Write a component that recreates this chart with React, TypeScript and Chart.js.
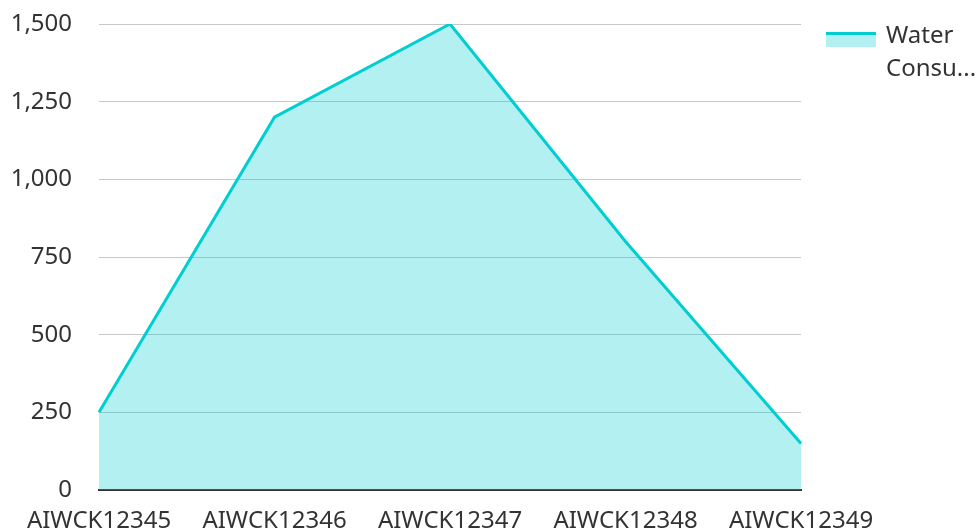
import React, { useEffect, useRef } from "react";
import { Chart, registerables } from "chart.js";

Chart.register(...registerables);

const categories = ["AIWCK12345", "AIWCK12346", "AIWCK12347", "AIWCK12348", "AIWCK12349"];
const waterValues = [250, 1200, 1500, 800, 150];
const seriesLabel = "Water Consu...";
const yTicks = [0, 250, 500, 750, 1000, 1250, 1500];

const LINE = "rgb(0,206,209)";
const FILL = "rgba(0,206,209,0.3)";
const TEXT = "#333333";
const FONT = "'Noto Sans', 'Open Sans', sans-serif";

export default function App() {
  const ref = useRef<HTMLCanvasElement | null>(null);

  useEffect(() => {
    document.body.style.margin = "0";
    const canvas = ref.current;
    if (!canvas) return;
    const chart = new Chart(canvas, {
      type: "line",
      data: {
        labels: categories,
        datasets: [
          {
            label: seriesLabel,
            data: waterValues,
            borderColor: LINE,
            backgroundColor: FILL,
            borderWidth: 3,
            fill: "origin",
            pointRadius: 0,
            tension: 0,
          },
        ],
      },
      options: {
        animation: false,
        responsive: false,
        maintainAspectRatio: false,
        layout: { padding: { top: 24, right: 179, bottom: 0, left: 0 } },
        plugins: { legend: { display: false }, tooltip: { enabled: false } },
        scales: {
          x: {
            offset: false,
            grid: { display: false },
            border: { display: true, color: "#333333", width: 2 },
            ticks: {
              color: TEXT,
              font: { family: FONT, size: 24 },
              maxRotation: 0,
              autoSkip: false,
              padding: 9,
            },
            afterFit: (s: any) => {
              s.height = 42;
              s.paddingLeft = 0;
              s.paddingRight = 0;
            },
          },
          y: {
            min: 0,
            max: 1500,
            afterBuildTicks: (s: any) => {
              s.ticks = yTicks.map((v) => ({ value: v }));
            },
            grid: { color: "#c8c8c8", lineWidth: 1, drawTicks: false },
            border: { display: false },
            ticks: {
              color: TEXT,
              font: { family: FONT, size: 24 },
              padding: 27,
              callback: (v: any) => Number(v).toLocaleString("en-US"),
            },
            afterFit: (s: any) => {
              s.width = 99;
              s.paddingTop = 0;
              s.paddingBottom = 0;
            },
          },
        },
      },
    });
    return () => chart.destroy();
  }, []);

  return (
    <div style={{ position: "fixed", left: 0, top: 0, width: 980, height: 532, background: "#fff" }}>
      <canvas ref={ref} width={980} height={532} style={{ position: "absolute", left: 0, top: 0 }} />
      <div
        style={{
          position: "absolute",
          left: 826,
          top: 17,
          display: "flex",
          alignItems: "flex-start",
          fontFamily: FONT,
          fontSize: 24,
          color: TEXT,
        }}
      >
        <div style={{ width: 50, marginTop: 15 }}>
          <div style={{ height: 3, background: LINE }} />
          <div style={{ height: 12, background: "rgba(0,206,209,0.3)" }} />
        </div>
        <div style={{ marginLeft: 10, width: 95, lineHeight: "33px" }}>{seriesLabel}</div>
      </div>
    </div>
  );
}
